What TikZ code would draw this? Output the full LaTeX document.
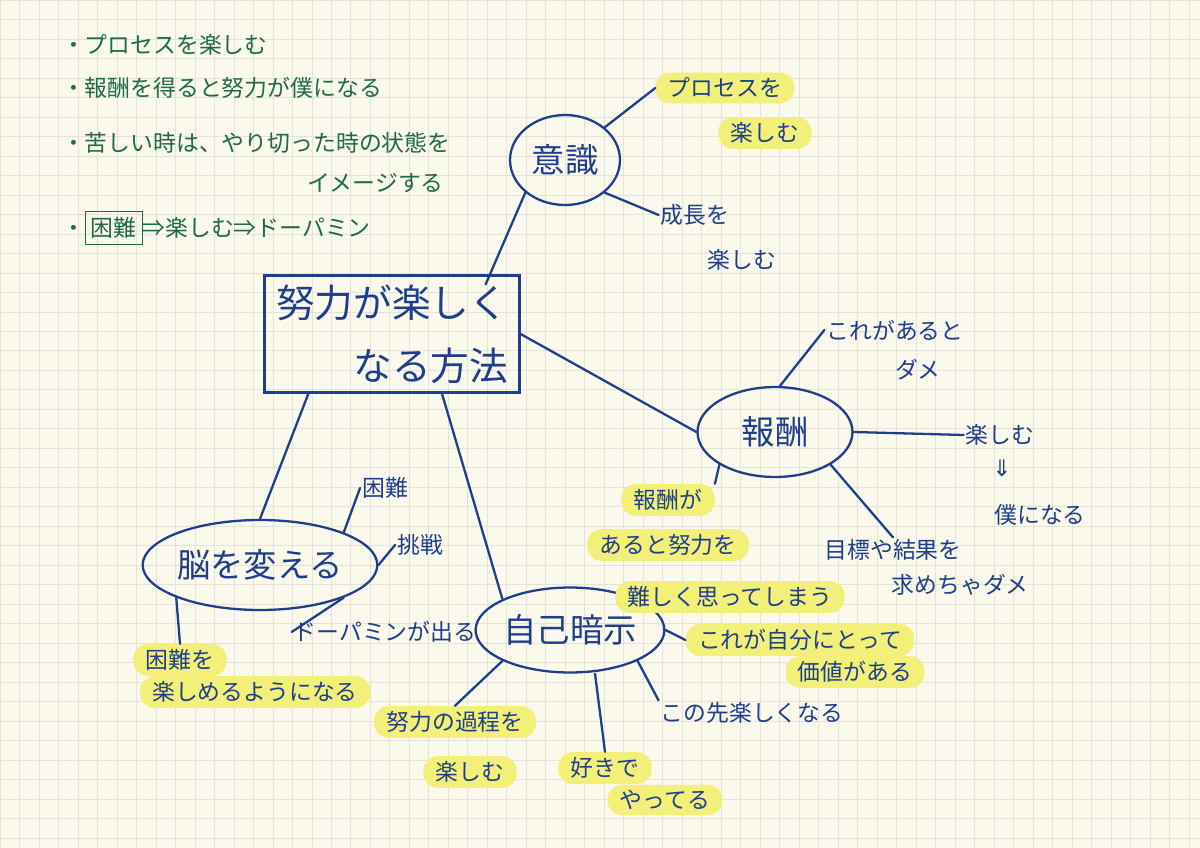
\documentclass[tikz,border=0pt]{standalone}
\usepackage{fontspec}
\setmainfont{Noto Sans CJK JP}
\newfontfamily\djv{DejaVu Sans}
\definecolor{paper}{HTML}{FBF8EC}
\definecolor{gridc}{HTML}{E4E2DA}
\definecolor{ink}{HTML}{1F3E8C}
\definecolor{grn}{HTML}{1E6B45}
\definecolor{hl}{HTML}{F3F07A}
\usetikzlibrary{shapes.geometric}
\tikzset{
 bt/.style={text=ink,font=\fontsize{13}{16}\selectfont,inner sep=1pt},
 gt/.style={text=grn,font=\fontsize{13}{16}\selectfont,anchor=west,inner sep=1pt},
 hlt/.style={bt,fill=hl,rounded corners=8pt,inner xsep=7pt,inner ysep=3pt},
 bub/.style={draw=ink,line width=1.3pt,ellipse,text=ink,font=\fontsize{19}{22}\selectfont,inner sep=0pt},
 con/.style={draw=ink,line width=1.3pt,line cap=round}
}
\begin{document}
\begin{tikzpicture}[x=0.02cm,y=-0.02cm]
\fill[paper] (0,0) rectangle (1200,848);
\useasboundingbox (0,0) rectangle (1200,848);
\draw[gridc,line width=0.5pt,step=0.39cm] (0,0) grid (1200,848);
% green notes
\node[gt] (g1) at (60,45) {・プロセスを楽しむ};
\node[gt] (g2) at (60,88) {・報酬を得ると努力が僕になる};
\node[gt] (g3) at (60,143) {・苦しい時は、やり切った時の状態を};
\node[gt] (g4) at (305,183) {イメージする};
\node[gt] (g5) at (60,228) {・\fbox{困難}⇒楽しむ⇒ドーパミン};
% hub
\node[draw=ink,line width=1.3pt,text=ink,font=\fontsize{22}{36}\selectfont,align=center,minimum width=5.1cm,minimum height=2.34cm] (hub) at (392,334) {努力が楽しく\\\hspace*{2em}なる方法};
% bubbles
\node[bub,minimum width=2.2cm,minimum height=1.8cm] (ishiki) at (565,160) {意識};
\node[bub,minimum width=3.1cm,minimum height=1.8cm] (hoshu) at (775,432) {報酬};
\node[bub,minimum width=3.3cm,minimum height=1.8cm] (nou) at (260,565) {脳を変える};
\node[bub,minimum width=3.0cm,minimum height=1.7cm] (jiko) at (570,630) {自己暗示};
\draw[con] (hub.north east)++(-35,10) coordinate (h1) -- (ishiki.south west);
\draw[con] (hub.east) -- (hoshu.west);
\draw[con] (hub.south west)++(45,0) coordinate(h2) -- (nou.north);
\draw[con] (hub.south)++(50,0) coordinate(h3) -- (jiko.north west);
% ishiki
\node[hlt] (i1) at (725,88) {プロセスを};
\node[hlt] (i2) at (765,133) {楽しむ};
\node[bt] (i3) at (695,215) {成長を};
\node[bt] (i4) at (742,260) {楽しむ};
\draw[con] (ishiki.north east) -- (i1.west);
\draw[con] (ishiki.south east) -- (i3.west);
% hoshu
\node[bt] (r1) at (895,330) {これがあると};
\node[bt] (r2) at (918,370) {ダメ};
\node[bt] (r3) at (1000,435) {楽しむ};
\node[bt,font=\djv\fontsize{13}{16}\selectfont] (r4) at (1002,468) {⇓};
\node[bt] (r5) at (1040,515) {僕になる};
\node[bt] (r6) at (893,550) {目標や結果を};
\node[bt] (r7) at (960,585) {求めちゃダメ};
\node[hlt] (r8) at (668,500) {報酬が};
\node[hlt] (r9) at (668,545) {あると努力を};
\node[hlt] (r10) at (730,597) {難しく思ってしまう};
\draw[con] (hoshu.north) ++(5,0) -- (r1.west);
\draw[con] (hoshu.east) -- (r3.west);
\draw[con] (hoshu.south east) -- (r6.north);
\draw[con] (hoshu.south west) -- (r8.north east);
% nou
\node[bt] (n1) at (385,488) {困難};
\node[bt] (n2) at (420,545) {挑戦};
\node[bt] (n3) at (385,632) {ドーパミンが出る};
\node[hlt] (n4) at (180,660) {困難を};
\node[hlt] (n5) at (255,692) {楽しめるようになる};
\draw[con] (nou.north east) -- (n1.west);
\draw[con] (nou.east) -- (n2.west);
\draw[con] (nou.south east) -- (n3.west);
\draw[con] (nou.south west) -- (n4.north);
% jiko
\node[hlt] (j1) at (800,640) {これが自分にとって};
\node[hlt] (j2) at (855,672) {価値がある};
\node[bt] (j3) at (752,713) {この先楽しくなる};
\node[hlt] (j4) at (455,722) {努力の過程を};
\node[hlt] (j5) at (470,772) {楽しむ};
\node[hlt] (j6) at (605,768) {好きで};
\node[hlt] (j7) at (665,800) {やってる};
\draw[con] (jiko.east) -- (j1.west);
\draw[con] (jiko.south east) -- (j3.north west);
\draw[con] (jiko.south west) -- (j4.north);
\draw[con] (jiko.south) ++(25,0) -- (j6.north);
\end{tikzpicture}
\end{document}
